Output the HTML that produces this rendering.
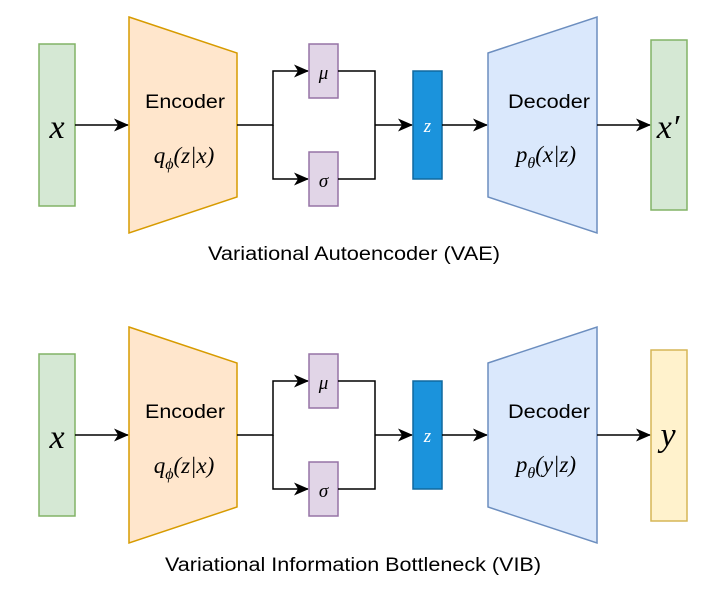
<!DOCTYPE html>
<html><head><meta charset="utf-8"><style>
html,body{margin:0;padding:0;background:#fff;width:720px;height:596px;overflow:hidden}
svg{display:block}
.s{font-family:"Liberation Sans",sans-serif;font-size:19px;fill:#000}
.m{font-family:"Liberation Serif",serif;font-style:italic;fill:#000}
</style></head><body>
<svg width="720" height="596" viewBox="0 0 720 596">
<defs>
<marker id="a" markerWidth="15" markerHeight="13" refX="14" refY="6.5" orient="auto" markerUnits="userSpaceOnUse">
<path d="M0,0 L15,6.5 L0,13 L4,6.5 Z" fill="#000"/>
</marker>
<g id="common">
<rect x="39" y="44" width="36" height="162" fill="#d5e8d4" stroke="#82b366" stroke-width="1.5"/>
<text x="57" y="138" class="m" font-size="34" text-anchor="middle">x</text>
<line x1="75" y1="125" x2="128" y2="125" stroke="#000" stroke-width="1.5" marker-end="url(#a)"/>
<polygon points="129,17 237,53 237,197 129,233" fill="#ffe6cc" stroke="#d79b00" stroke-width="1.5"/>
<text x="145" y="108" class="s" font-size="21" textLength="80" lengthAdjust="spacingAndGlyphs">Encoder</text>
<text x="184" y="163" class="m" font-size="23" text-anchor="middle">q<tspan font-size="16" dy="6">ϕ</tspan><tspan dy="-6">(z|x)</tspan></text>
<polyline points="237,125 273,125 273,71 308,71" fill="none" stroke="#000" stroke-width="1.5" marker-end="url(#a)"/>
<polyline points="273,125 273,179 308,179" fill="none" stroke="#000" stroke-width="1.5" marker-end="url(#a)"/>
<rect x="309" y="44" width="29" height="54" fill="#e1d5e7" stroke="#9673a6" stroke-width="1.5"/>
<text x="323.5" y="79" class="m" font-size="19" text-anchor="middle">μ</text>
<rect x="309" y="152" width="29" height="54" fill="#e1d5e7" stroke="#9673a6" stroke-width="1.5"/>
<text x="323.5" y="187" class="m" font-size="19" text-anchor="middle">σ</text>
<polyline points="338,71 375,71 375,179 338,179" fill="none" stroke="#000" stroke-width="1.5"/>
<line x1="375" y1="125" x2="412" y2="125" stroke="#000" stroke-width="1.5" marker-end="url(#a)"/>
<rect x="413" y="71" width="29" height="108" fill="#1b93dc" stroke="#10699f" stroke-width="1.5"/>
<text x="427.5" y="132" class="m" font-size="19" style="fill:#fff" text-anchor="middle">z</text>
<line x1="442" y1="125" x2="487" y2="125" stroke="#000" stroke-width="1.5" marker-end="url(#a)"/>
<polygon points="488,53 597,17 597,233 488,197" fill="#dae8fc" stroke="#6c8ebf" stroke-width="1.5"/>
<text x="508" y="108" class="s" font-size="21" textLength="82" lengthAdjust="spacingAndGlyphs">Decoder</text>
<line x1="597" y1="125" x2="650" y2="125" stroke="#000" stroke-width="1.5" marker-end="url(#a)"/>
</g>
</defs>
<use href="#common"/>
<text x="546" y="162" class="m" font-size="23" text-anchor="middle">p<tspan font-size="16" dy="6">θ</tspan><tspan dy="-6">(x|z)</tspan></text>
<rect x="651" y="40" width="36" height="170" fill="#d5e8d4" stroke="#82b366" stroke-width="1.5"/>
<text x="668" y="138" class="m" font-size="34" text-anchor="middle">x′</text>
<text x="208" y="260" class="s" font-size="20" textLength="292" lengthAdjust="spacingAndGlyphs">Variational Autoencoder (VAE)</text>

<g transform="translate(0,310)">
<use href="#common"/>
<text x="546" y="162" class="m" font-size="23" text-anchor="middle">p<tspan font-size="16" dy="6">θ</tspan><tspan dy="-6">(y|z)</tspan></text>
<rect x="651" y="40" width="36" height="171" fill="#fff2cc" stroke="#d6b656" stroke-width="1.5"/>
<text x="668" y="136" class="m" font-size="34" text-anchor="middle">y</text>
<text x="165" y="261" class="s" font-size="20" textLength="376" lengthAdjust="spacingAndGlyphs">Variational Information Bottleneck (VIB)</text>
</g>
</svg>
</body></html>
